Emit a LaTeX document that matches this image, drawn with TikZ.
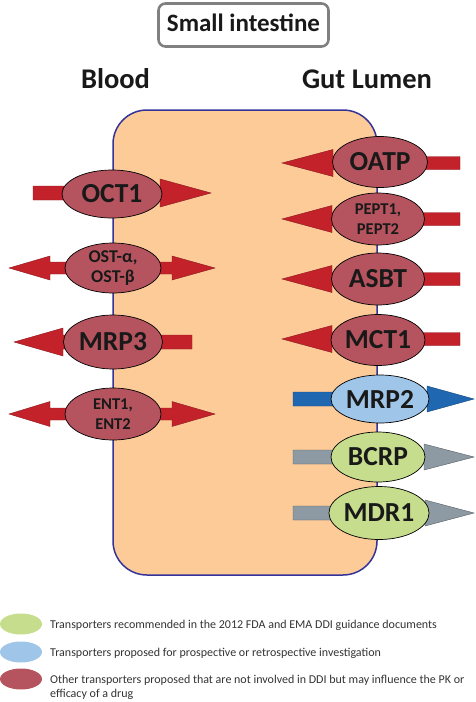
\documentclass[tikz,border=0pt]{standalone}
\usepackage{fontspec}
\setmainfont{Carlito}
\usetikzlibrary{shapes.geometric}
\definecolor{cellfill}{HTML}{FDCB98}
\definecolor{cellline}{HTML}{33339A}
\definecolor{redell}{HTML}{B5545E}
\definecolor{redarr}{HTML}{C4222B}
\definecolor{bluell}{HTML}{9FC5E8}
\definecolor{bluarr}{HTML}{1F67B1}
\definecolor{grnell}{HTML}{C5DD8C}
\definecolor{grarr}{HTML}{8D9AA3}
\definecolor{legtext}{HTML}{333333}
\tikzset{
  trans/.style={ellipse, draw=black, line width=0.7pt, inner sep=0pt, font=\bfseries, text=black!90, align=center},
  redt/.style={trans, fill=redell},
  blut/.style={trans, fill=bluell},
  grnt/.style={trans, fill=grnell},
  big/.style={font=\fontsize{27.5}{27}\selectfont\bfseries},
  small/.style={font=\fontsize{16.5}{20}\selectfont\bfseries},
  redarrow/.style={fill=redarr, draw=redarr!70!black, line width=0.4pt},
  bluarrow/.style={fill=bluarr, draw=bluarr!70!black, line width=0.4pt},
  grayarrow/.style={fill=grarr, draw=grarr!60!black, line width=0.4pt},
  legell/.style={ellipse, minimum width=42pt, minimum height=21pt, inner sep=0pt},
  legtxt/.style={anchor=base west, inner sep=0pt, text=legtext, font=\fontsize{12}{14}\selectfont},
}
% arrow polygon: shaft start, head base, tip, y, shaft half height, head half height
\newcommand\arrpoly[7]{\draw[#7] (#1,#4-#5) -- (#2,#4-#5) -- (#2,#4-#6) -- (#3,#4) -- (#2,#4+#6) -- (#2,#4+#5) -- (#1,#4+#5) -- cycle;}
\begin{document}
\begin{tikzpicture}[x=1pt,y=-1pt]
\useasboundingbox (0,0) rectangle (476,702);
% title
\node[draw=black!50, line width=2.6pt, rounded corners=7pt, minimum width=170pt, minimum height=43pt, inner sep=0pt] (title) at (243.5,25) {};
\node[anchor=base, font=\fontsize{25}{25}\selectfont\bfseries, text=black!90, inner sep=0pt] (titletext) at (243.5,31) {Small intestine};
\node[anchor=base, font=\fontsize{28.5}{28}\selectfont\bfseries, text=black!90, inner sep=0pt] (blood) at (115.5,88) {Blood};
\node[anchor=base, font=\fontsize{28.5}{28}\selectfont\bfseries, text=black!90, inner sep=0pt] (gut) at (367,88) {Gut Lumen};
% cell
\draw[fill=cellfill, draw=cellline, line width=1.5pt, rounded corners=34pt] (113,110) rectangle (377,575);
% left side arrows
\arrpoly{33}{160}{211}{193}{7}{14}{redarrow}
\arrpoly{113}{50}{9}{268}{6}{12}{redarrow}
\arrpoly{113}{172}{215}{268}{6}{12}{redarrow}
\arrpoly{192}{63}{14}{342}{7}{14}{redarrow}
\arrpoly{113}{50}{9}{414}{6}{12.5}{redarrow}
\arrpoly{113}{172}{215}{414}{6}{12.5}{redarrow}
% right side arrows
\arrpoly{460}{333}{282}{163}{6.5}{13.5}{redarrow}
\arrpoly{460}{332}{282}{219}{6.5}{13.5}{redarrow}
\arrpoly{460}{332}{282}{279}{6.5}{13.5}{redarrow}
\arrpoly{460}{332}{282}{339}{6.5}{13.5}{redarrow}
\arrpoly{293}{427}{474}{399}{7}{13}{bluarrow}
\arrpoly{293}{424}{474}{457}{7}{13}{grayarrow}
\arrpoly{293}{425}{474}{513}{7}{13}{grayarrow}
% left transporters
\node[redt, big, minimum width=100pt, minimum height=48pt] (oct1) at (112,194) {OCT1};
\node[redt, small, font=\fontsize{18}{20}\selectfont\bfseries, minimum width=96pt, minimum height=50pt] (ost) at (113,268) {OST-α,\\OST-β};
\node[redt, big, minimum width=99pt, minimum height=54pt] (mrp3) at (113,342) {MRP3};
\node[redt, small, minimum width=96pt, minimum height=52pt] (ent) at (113,414) {ENT1,\\ENT2};
% right transporters
\node[redt, big, minimum width=95pt, minimum height=51pt] (oatp) at (380,162) {OATP};
\node[redt, small, minimum width=93pt, minimum height=52pt] (pept) at (378,219) {PEPT1,\\PEPT2};
\node[redt, big, minimum width=93pt, minimum height=52pt] (asbt) at (378,279) {ASBT};
\node[redt, big, minimum width=94pt, minimum height=51pt] (mct1) at (378,340) {MCT1};
\node[blut, big, minimum width=98pt, minimum height=48pt] (mrp2) at (380,399) {MRP2};
\node[grnt, big, minimum width=94pt, minimum height=50pt] (bcrp) at (378,457) {BCRP};
\node[grnt, big, minimum width=96pt, minimum height=53pt] (mdr1) at (379,513) {MDR1};
% legend
\node[legell, fill=grnell] (lg1) at (21,624) {};
\node[legell, fill=bluell] (lg2) at (21,652) {};
\node[legell, fill=redell] (lg3) at (21,679) {};
\node[legtxt] (lt1) at (50,628) {Transporters recommended in the 2012 FDA and EMA DDI guidance documents};
\node[legtxt] (lt2) at (50,656) {Transporters proposed for prospective or retrospective investigation};
\node[legtxt] (lt3) at (50,683) {\begin{tabular}[t]{@{}l@{}}Other transporters proposed that are not involved in DDI but may influence the PK or\\efficacy of a drug\end{tabular}};
\end{tikzpicture}
\end{document}
